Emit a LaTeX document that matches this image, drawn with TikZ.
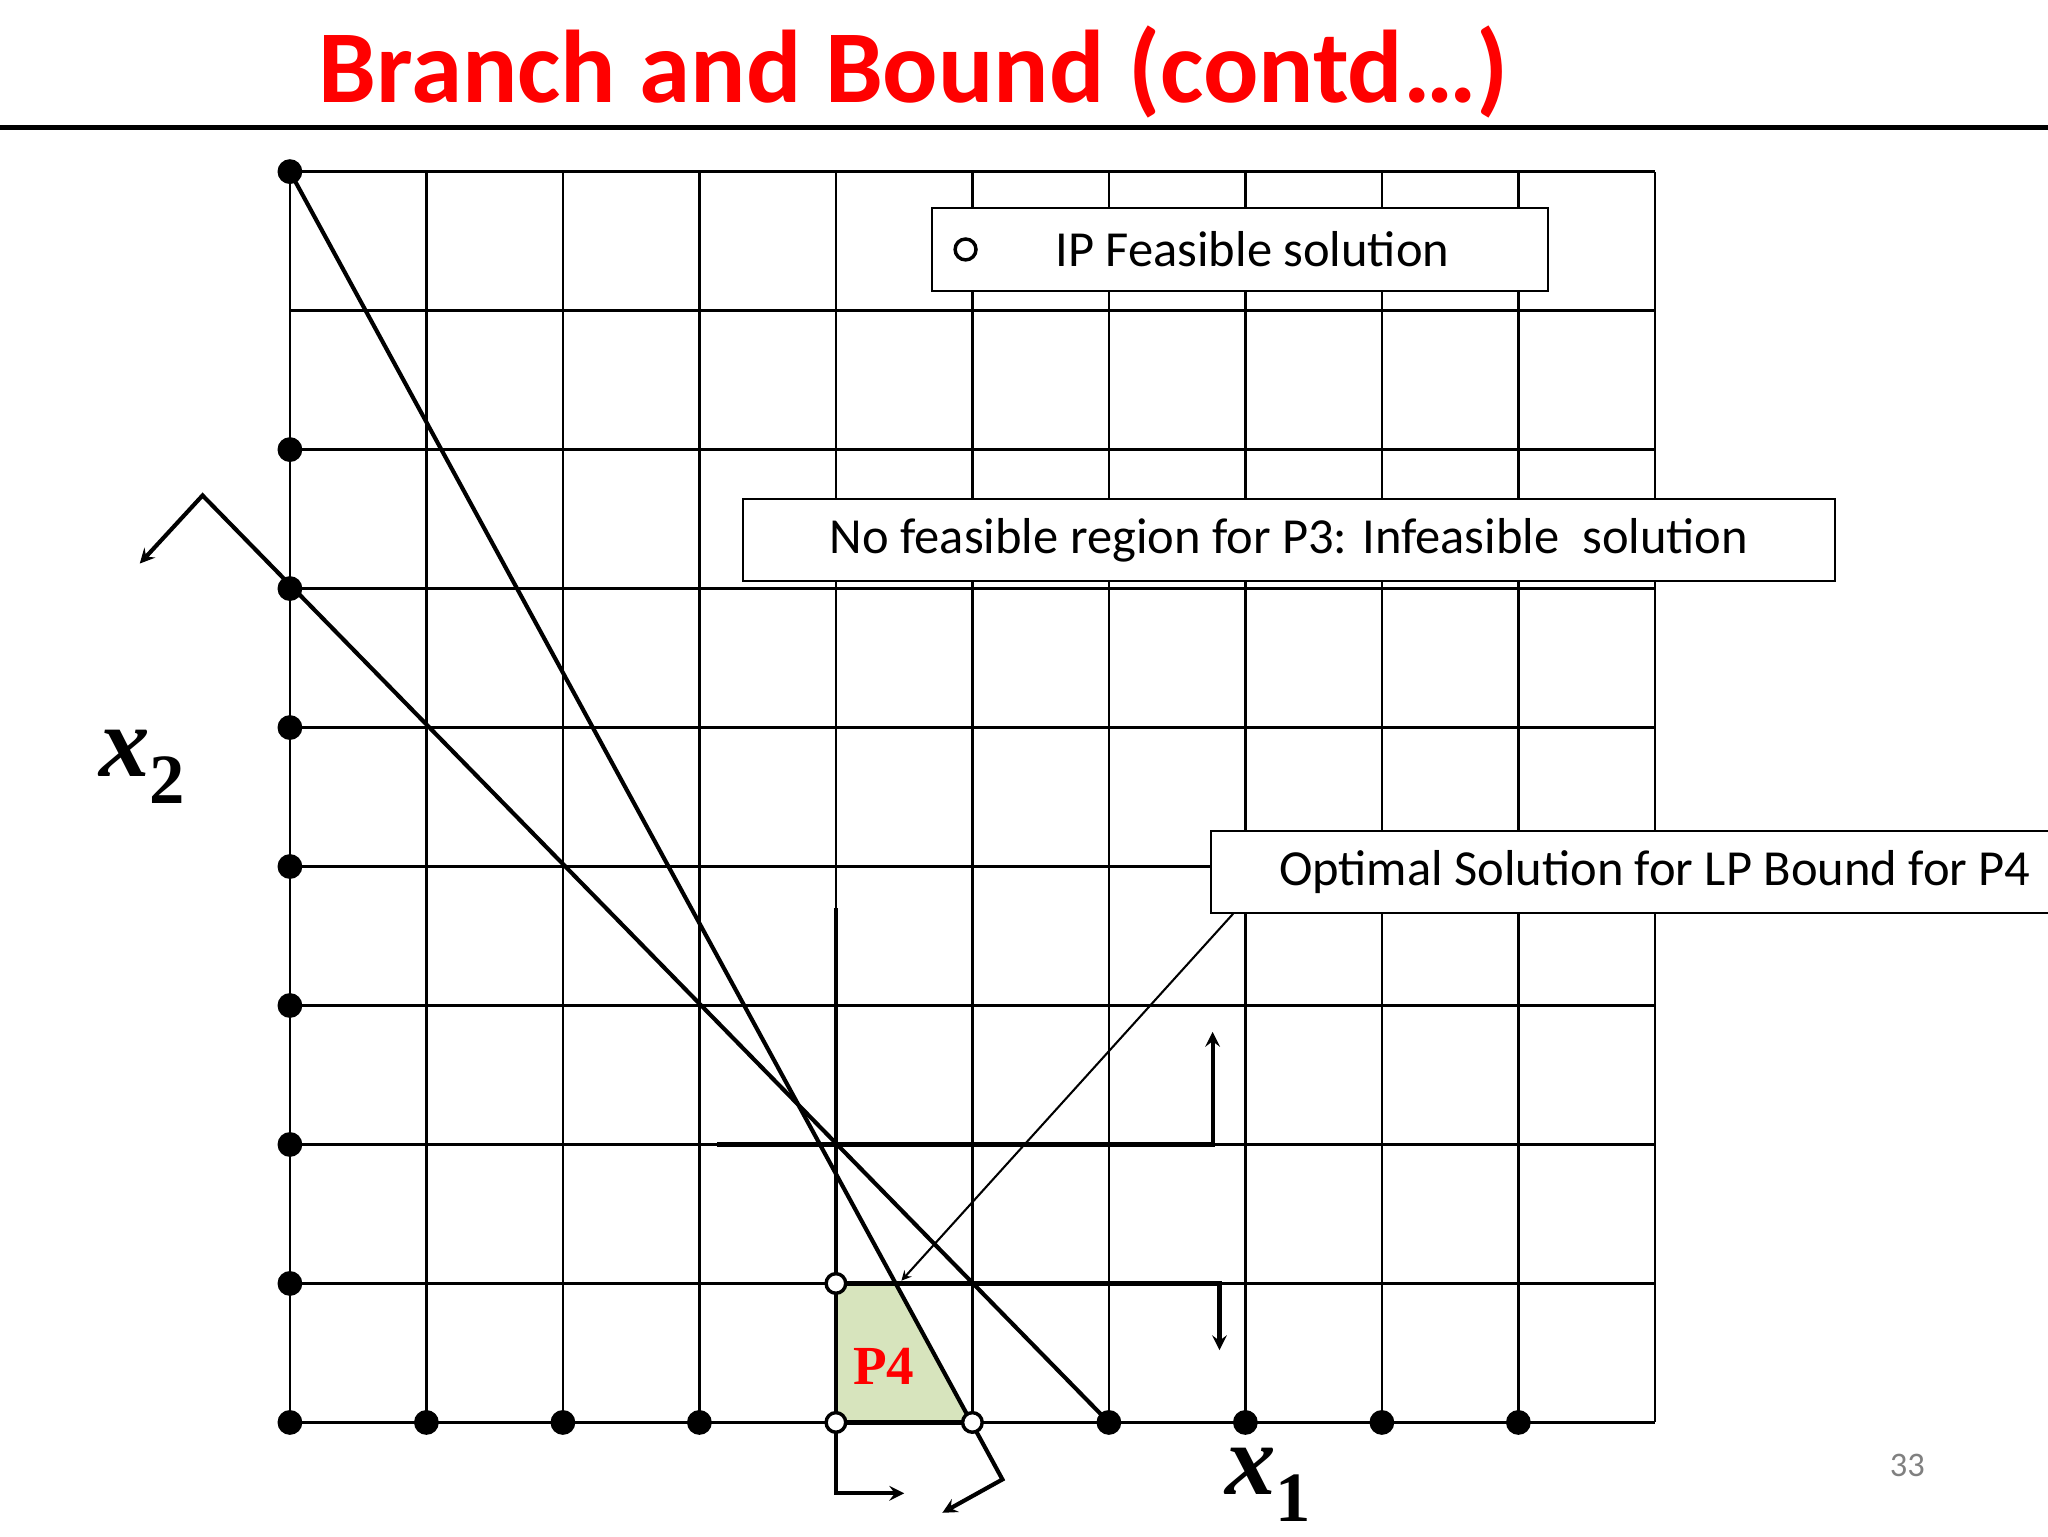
\documentclass[tikz,border=0pt]{standalone}
\usepackage{fontspec}
\setmainfont{Carlito}
\newfontfamily\serifb{Liberation Serif}
\begin{document}
\begin{tikzpicture}[x=2.09cm,y=2.128cm,
  gridl/.style={line width=1.1pt},
  mainl/.style={line width=1.8pt},
  dot/.style={circle,fill=black,inner sep=0pt,minimum size=0.38cm},
  odot/.style={circle,draw=black,fill=white,line width=1.5pt,inner sep=0pt,minimum size=0.3cm},
  lbox/.style={draw,line width=0.9pt,inner sep=0pt,font=\fontsize{22}{26}\selectfont}]
\useasboundingbox (-2.124,-0.818) rectangle (12.88,10.235);
% title
\node (title) at (4.57,9.72) {\fontsize{45}{50}\selectfont\bfseries\color{red}Branch and Bound (contd…)};
\draw[line width=2.2pt] (-2.124,9.32) -- (12.88,9.32);
% grid
\foreach \i in {0,...,10} \draw[gridl] (\i,0) -- (\i,9);
\foreach \j in {0,...,9} \draw[gridl] (0,\j) -- (10,\j);
% P4
\fill[green!20!olive!25!white,fill={rgb,255:red,215;green,228;blue,189}] (4,1) -- (4.444,1) -- (5,0) -- (4,0) -- cycle;
\draw[mainl] (4.444,1) -- (4,1) -- (4,0) -- (5,0);
\node[text=red,font=\serifb\bfseries\fontsize{24}{28}\selectfont] (p4) at (4.35,0.4) {P4};
% lines
\coordinate (a1) at (0,9); \coordinate (a2) at (5.22,-0.41); \coordinate (a3) at (4.78,-0.65);
\draw[mainl,-stealth] (a1) -- (a2) -- (a3);
\coordinate (b1) at (6,0); \coordinate (b2) at (-0.64,6.67); \coordinate (b3) at (-1.10,6.18);
\draw[mainl,-stealth] (b1) -- (b2) -- (b3);
\coordinate (c1) at (4,3.70); \coordinate (c2) at (4,-0.51); \coordinate (c3) at (4.5,-0.51);
\draw[mainl,-stealth] (c1) -- (c2) -- (c3);
\coordinate (d1) at (3.13,2); \coordinate (d2) at (6.76,2); \coordinate (d3) at (6.76,2.81);
\draw[mainl,-stealth] (d1) -- (d2) -- (d3);
\coordinate (e1) at (4,1); \coordinate (e2) at (6.81,1); \coordinate (e3) at (6.81,0.52);
\draw[mainl,-stealth] (e1) -- (e2) -- (e3);
% dots
\foreach \j in {0,1,2,3,4,5,6,7,9} \node[dot] at (0,\j) {};
\foreach \i in {1,2,3,6,7,8,9} \node[dot] at (\i,0) {};
\node[odot] at (4,1) {}; \node[odot] at (4,0) {}; \node[odot] at (5,0) {};
% boxes
\node[lbox,fill=white,minimum width=9.42cm,minimum height=1.26cm] (bx1) at (6.96,8.44) {};
\node[odot,minimum size=0.32cm] (bc) at (4.95,8.44) {};
\node[font=\fontsize{22}{26}\selectfont,anchor=west] (t1) at (5.55,8.44) {IP Feasible solution};
\node[lbox,fill=white,minimum width=16.72cm,minimum height=1.26cm] (bx2) at (7.32,6.35) {No feasible region for P3: Infeasible\ \ solution};
\node[lbox,fill=white,minimum width=13.6cm,minimum height=1.26cm] (bx3) at (10.0,3.96) {Optimal Solution for LP Bound for P4};
\coordinate (tip) at (4.48,1.02);
\draw[line width=0.9pt,-stealth] (6.91,3.66) -- (tip);
% labels
\node[font=\serifb\bfseries\itshape\fontsize{44}{48}\selectfont] (x2) at (-1.08,4.72) {x\textsubscript{\upshape 2}};
\node[font=\serifb\bfseries\itshape\fontsize{44}{48}\selectfont] (x1) at (7.17,-0.45) {x\textsubscript{\upshape 1}};
\node[text=gray,font=\fontsize{15}{18}\selectfont] (pg) at (11.85,-0.31) {33};
\end{tikzpicture}
\end{document}
